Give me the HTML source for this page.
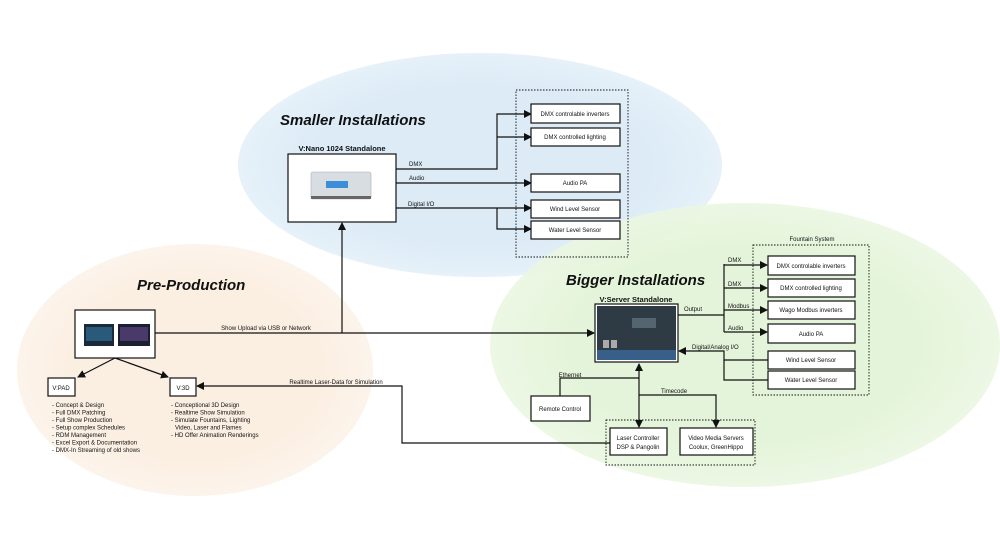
<!DOCTYPE html>
<html><head><meta charset="utf-8"><style>
html,body{margin:0;padding:0;background:#fff}
svg{display:block}
text{font-family:"Liberation Sans",sans-serif;fill:#111}
.s{font-size:6px}
.t{font-size:15px;font-weight:bold;font-style:italic}
.h{font-size:7.5px;font-weight:bold}
</style></head><body>
<svg width="1000" height="545" viewBox="0 0 1000 545" xmlns="http://www.w3.org/2000/svg">
<defs>
<marker id="a" markerWidth="8" markerHeight="8" refX="7" refY="4" orient="auto" markerUnits="userSpaceOnUse"><path d="M0,0 L8,4 L0,8 z" fill="#111"/></marker>
<marker id="b" markerWidth="8" markerHeight="8" refX="1" refY="4" orient="auto" markerUnits="userSpaceOnUse"><path d="M8,0 L0,4 L8,8 z" fill="#111"/></marker>
<radialGradient id="gb"><stop offset="0.7" stop-color="#dcebf6"/><stop offset="1" stop-color="#e6f1f9"/></radialGradient>
<radialGradient id="go"><stop offset="0.7" stop-color="#fbeee0"/><stop offset="1" stop-color="#fcf3ea"/></radialGradient>
<radialGradient id="gg"><stop offset="0.7" stop-color="#e3f4d8"/><stop offset="1" stop-color="#ebf7e3"/></radialGradient>
</defs>
<ellipse cx="480" cy="165" rx="242" ry="112" fill="url(#gb)"/>
<ellipse cx="745" cy="345" rx="255" ry="142" fill="url(#gg)" opacity="0.95"/>
<ellipse cx="195" cy="370" rx="178" ry="126" fill="url(#go)" opacity="0.95"/>

<g stroke="#111" stroke-width="1.2" fill="none">
<!-- smaller installations -->
<rect x="516" y="90" width="112" height="167" stroke-dasharray="1.5,1.5" stroke-width="0.9"/>
<polyline points="396,169 497,169 497,114 531,114" marker-end="url(#a)"/>
<polyline points="497,137 531,137" marker-end="url(#a)"/>
<polyline points="396,183 531,183" marker-end="url(#a)"/>
<polyline points="396,208 531,208" marker-end="url(#a)"/>
<polyline points="497,208 497,229 531,229" marker-end="url(#a)"/>
<polyline points="342,333 342,223" marker-end="url(#a)"/>
<!-- preprod -->
<polyline points="155,333 594,333" marker-end="url(#a)"/>
<line x1="115" y1="358" x2="78" y2="377" marker-end="url(#a)"/>
<line x1="115" y1="358" x2="168" y2="377" marker-end="url(#a)"/>
<polyline points="610,443 402,443 402,386 197,386" marker-end="url(#a)"/>
<!-- bigger -->
<rect x="753" y="245" width="116" height="150" stroke-dasharray="1.5,1.5" stroke-width="0.9"/>
<polyline points="678,315 724,315"/>
<polyline points="724,264 724,332"/>
<polyline points="724,265 767,265" marker-end="url(#a)"/>
<polyline points="724,288 767,288" marker-end="url(#a)"/>
<polyline points="724,310 767,310" marker-end="url(#a)"/>
<polyline points="724,332 767,332" marker-end="url(#a)"/>
<polyline points="768,360 724,360 724,351 679,351" marker-end="url(#a)"/>
<polyline points="768,380 724,380 724,360"/>
<polyline points="560,396 560,378 639,378"/>
<line x1="639" y1="364" x2="639" y2="427" marker-start="url(#b)" marker-end="url(#a)"/>
<polyline points="639,395 716,395 716,427" marker-end="url(#a)"/>
<rect x="606" y="420" width="149" height="45" stroke-dasharray="1.5,1.5" stroke-width="0.9"/>
</g>

<g stroke="#111" stroke-width="1.2" fill="#fff">
<rect x="288" y="154" width="108" height="68"/>
<rect x="531" y="104" width="89" height="19"/>
<rect x="531" y="128" width="89" height="18"/>
<rect x="531" y="174" width="89" height="18"/>
<rect x="531" y="200" width="89" height="18"/>
<rect x="531" y="221" width="89" height="18"/>
<rect x="75" y="310" width="80" height="48"/>
<rect x="48" y="378" width="27" height="18"/>
<rect x="170" y="378" width="26" height="18"/>
<rect x="595" y="304" width="83" height="58"/>
<rect x="768" y="256" width="87" height="19"/>
<rect x="768" y="279" width="87" height="18"/>
<rect x="768" y="301" width="87" height="18"/>
<rect x="768" y="324" width="87" height="19"/>
<rect x="768" y="351" width="87" height="18"/>
<rect x="768" y="371" width="87" height="18"/>
<rect x="531" y="396" width="59" height="25"/>
<rect x="610" y="428" width="57" height="27"/>
<rect x="680" y="428" width="73" height="27"/>
</g>

<!-- device images -->
<rect x="311" y="172" width="60" height="27" rx="2" fill="#d8dde2" stroke="#aab" stroke-width="0.6"/>
<rect x="326" y="181" width="22" height="7" fill="#3a8fd8"/>
<rect x="311" y="196" width="60" height="3" fill="#666"/>
<rect x="84" y="324" width="30" height="22" fill="#1b2a3a"/>
<rect x="86" y="327" width="26" height="14" fill="#2a5a7a"/>
<rect x="118" y="324" width="32" height="22" fill="#1b2030"/>
<rect x="120" y="327" width="28" height="14" fill="#4a3a6a"/>
<rect x="597" y="306" width="79" height="54" fill="#2e3a44"/>
<rect x="597" y="350" width="79" height="10" fill="#3d6fa8" opacity="0.7"/>
<rect x="632" y="318" width="24" height="10" fill="#556570"/>
<rect x="603" y="340" width="6" height="8" fill="#aaa"/>
<rect x="611" y="340" width="6" height="8" fill="#aaa"/>

<!-- titles -->
<text class="t" x="280" y="125">Smaller Installations</text>
<text class="t" x="137" y="290">Pre-Production</text>
<text class="t" x="566" y="285">Bigger Installations</text>
<text class="h" x="342" y="151" text-anchor="middle">V:Nano 1024 Standalone</text>
<text class="h" x="636" y="302" text-anchor="middle">V:Server Standalone</text>

<g class="s" text-anchor="middle">
<text x="575" y="116">DMX controlable inverters</text>
<text x="575" y="139">DMX controlled lighting</text>
<text x="575" y="185">Audio PA</text>
<text x="575" y="211">Wind Level Sensor</text>
<text x="575" y="232">Water Level Sensor</text>
<text x="811" y="268">DMX controlable inverters</text>
<text x="811" y="290">DMX controlled lighting</text>
<text x="811" y="312">Wago Modbus inverters</text>
<text x="811" y="336">Audio PA</text>
<text x="811" y="362">Wind Level Sensor</text>
<text x="811" y="382">Water Level Sensor</text>
<text x="812" y="241">Fountain System</text>
<text x="560" y="411">Remote Control</text>
<text x="638" y="440">Laser Controller</text>
<text x="638" y="449">DSP &amp; Pangolin</text>
<text x="716" y="440">Video Media Servers</text>
<text x="716" y="449">Coolux, GreenHippo</text>
<text x="61" y="390">V:PAD</text>
<text x="183" y="390">V:3D</text>
<text x="266" y="330">Show Upload via USB or Network</text>
<text x="336" y="384">Realtime Laser-Data for Simulation</text>
<text x="570" y="377">Ethernet</text>
<text x="674" y="393">Timecode</text>
</g>
<g class="s">
<text x="409" y="166">DMX</text>
<text x="409" y="180">Audio</text>
<text x="408" y="206">Digital I/O</text>
<text x="684" y="311">Output</text>
<text x="728" y="262">DMX</text>
<text x="728" y="286">DMX</text>
<text x="728" y="308">Modbus</text>
<text x="728" y="330">Audio</text>
<text x="692" y="349">Digital/Analog I/O</text>
<text x="52" y="407">- Concept &amp; Design</text>
<text x="52" y="414.5">- Full DMX Patching</text>
<text x="52" y="422">- Full Show Production</text>
<text x="52" y="429.5">- Setup complex Schedules</text>
<text x="52" y="437">- RDM Management</text>
<text x="52" y="444.5">- Excel Export &amp; Documentation</text>
<text x="52" y="452">- DMX-In Streaming of old shows</text>
<text x="171" y="407">- Conceptional 3D Design</text>
<text x="171" y="414.5">- Realtime Show Simulation</text>
<text x="171" y="422">- Simulate Fountains, Lighting</text>
<text x="175" y="429.5">Video, Laser and Flames</text>
<text x="171" y="437">- HD Offer Animation Renderings</text>
</g>
</svg>
</body></html>
